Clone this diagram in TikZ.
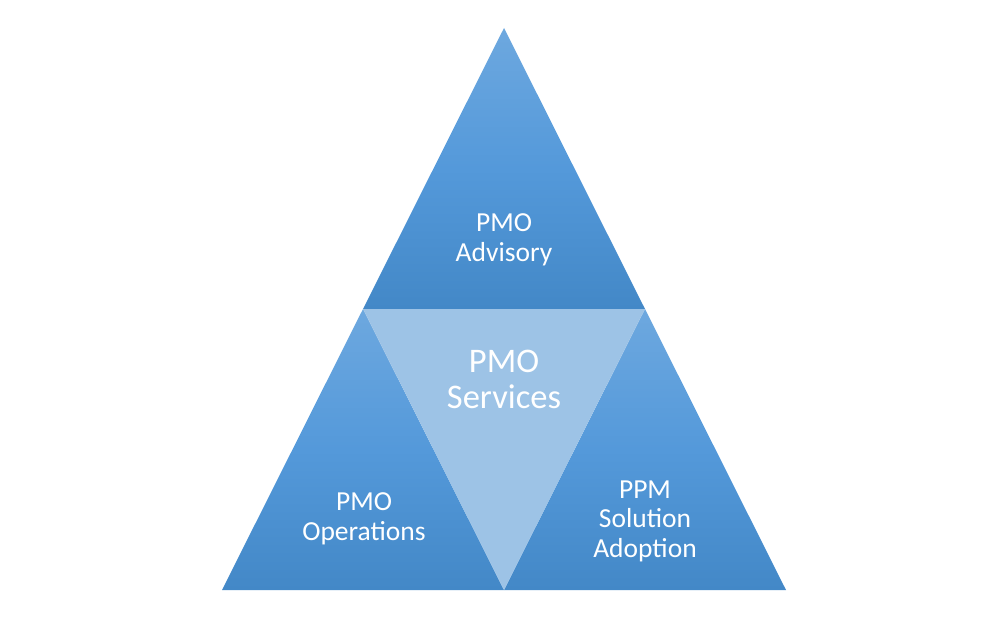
\documentclass[tikz,border=0pt]{standalone}
\usepackage{fontspec}
\setmainfont{Carlito}
\definecolor{blueTop}{HTML}{6DA8DF}
\definecolor{blueMid}{HTML}{5499DA}
\definecolor{blueBot}{HTML}{4388C7}
\definecolor{lightBlue}{HTML}{9DC3E6}
\begin{document}
\begin{tikzpicture}[x=1pt,y=-1pt,
  tri/.style={top color=blueTop, bottom color=blueBot, middle color=blueMid, draw=none},
  lbl/.style={text=white, align=center, font=\fontsize{27.5}{29.5}\selectfont},
  biglbl/.style={text=white, align=center, font=\fontsize{34.5}{36}\selectfont}]
\useasboundingbox (0,0) rectangle (1006,634);
\coordinate (apex) at (504,28);
\coordinate (bl) at (222,590);
\coordinate (br) at (786,590);
\coordinate (ml) at (363,309);
\coordinate (mr) at (645,309);
\coordinate (mb) at (504,590);
\shade[tri] (apex) -- (ml) -- (mr) -- cycle;
\shade[tri] (ml) -- (bl) -- (mb) -- cycle;
\shade[tri] (mr) -- (mb) -- (br) -- cycle;
\fill[lightBlue] (ml) -- (mr) -- (mb) -- cycle;
\node[lbl] (adv) at (504,240) {PMO\\Advisory};
\node[biglbl] (srv) at (504,379) {PMO\\Services};
\node[lbl] (ops) at (364,519) {PMO\\Operations};
\node[lbl] (ppm) at (645,521) {PPM\\Solution\\Adoption};
\end{tikzpicture}
\end{document}
